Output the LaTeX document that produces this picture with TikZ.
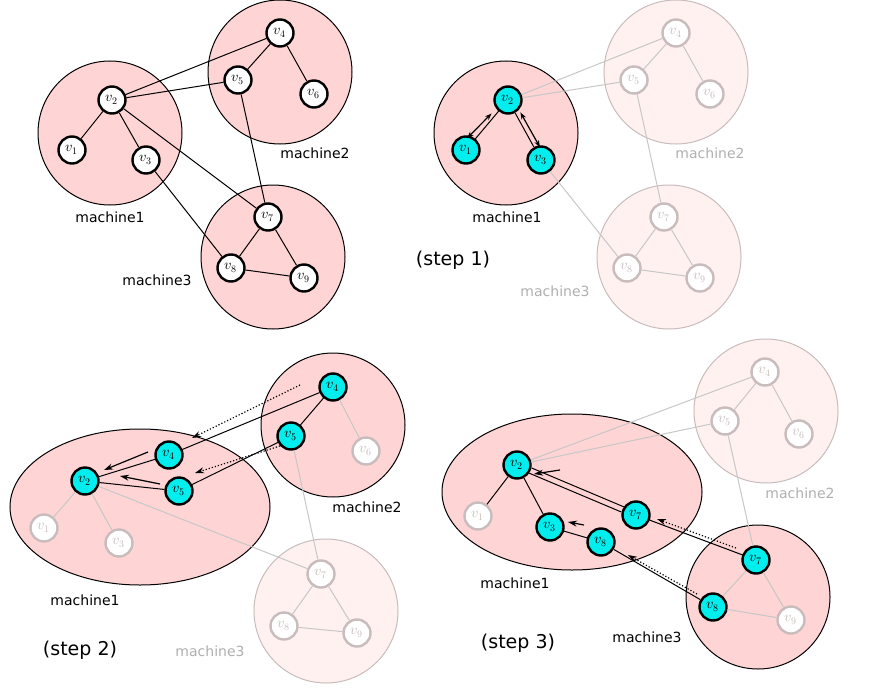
\documentclass[tikz,border=0pt]{standalone}
\usepackage{fontspec}
\setmainfont{DejaVu Sans}
\usepackage{unicode-math}
\setmathfont{Latin Modern Math}
\usetikzlibrary{arrows.meta}
\definecolor{pk}{RGB}{255,212,212}
\definecolor{fpk}{RGB}{255,241,239}
\definecolor{fg}{RGB}{200,188,188}
\definecolor{cy}{RGB}{0,238,238}
\definecolor{lg}{RGB}{175,175,175}
\begin{document}
\begin{tikzpicture}[x=1pt,y=-1pt,
 mach/.style={draw=black,line width=1pt,fill=pk},
 fmach/.style={draw=fg,line width=1pt,fill=fpk},
 vn/.style={circle,draw=black,line width=2.4pt,fill=white,minimum size=27pt,inner sep=0pt,font=\Large},
 cn/.style={vn,fill=cy},
 fn/.style={vn,draw=fg,text=fg},
 e/.style={line width=1pt},
 fe/.style={line width=1pt,draw=lg!70},
 lab/.style={font=\fontsize{14}{16}\selectfont},
 flab/.style={lab,text=lg},
 steplab/.style={font=\fontsize{19}{22}\selectfont},
 ar/.style={line width=1.2pt,-{Stealth[length=9pt,width=6pt]}},
 dar/.style={line width=1.2pt,dotted,-{Stealth[length=9pt,width=6pt]}}]
\useasboundingbox (0,0) rectangle (872,690);
% ---------- panel 1
\draw[mach] (110,133) circle (72);
\draw[mach] (280,72) circle (72);
\draw[mach] (273,257) circle (72);
\node[vn] (a2) at (112,100) {$v_2$};
\node[vn] (a1) at (72,150) {$v_1$};
\node[vn] (a3) at (146,160) {$v_3$};
\node[vn] (a4) at (280,33) {$v_4$};
\node[vn] (a5) at (238,80) {$v_5$};
\node[vn] (a6) at (314,94) {$v_6$};
\node[vn] (a7) at (268,217) {$v_7$};
\node[vn] (a8) at (231,268) {$v_8$};
\node[vn] (a9) at (304,278) {$v_9$};
\foreach \p/\q in {a2/a1,a2/a3,a2/a4,a2/a5,a4/a5,a4/a6,a5/a7,a2/a7,a3/a8,a7/a8,a7/a9,a8/a9}
 \draw[e] (\p) -- (\q);
\node[lab] (m11) at (110,217) {machine1};
\node[lab] (m12) at (315,153) {machine2};
\node[lab] (m13) at (157,280) {machine3};
% ---------- panel 2
\draw[mach] (506,133) circle (72);
\draw[fmach] (676,72) circle (72);
\draw[fmach] (669,257) circle (72);
\node[cn] (b2) at (508,100) {$v_2$};
\node[cn] (b1) at (466,150) {$v_1$};
\node[cn] (b3) at (541,160) {$v_3$};
\node[fn] (b4) at (676,33) {$v_4$};
\node[fn] (b5) at (634,80) {$v_5$};
\node[fn] (b6) at (710,94) {$v_6$};
\node[fn] (b7) at (664,217) {$v_7$};
\node[fn] (b8) at (627,268) {$v_8$};
\node[fn] (b9) at (700,278) {$v_9$};
\foreach \p/\q in {b2/b4,b2/b5,b4/b5,b4/b6,b5/b7,b3/b8,b7/b8,b7/b9,b8/b9}
 \draw[fe] (\p) -- (\q);
\draw[e] (b2) -- (b1); \draw[e] (b2) -- (b3);
\draw[line width=1.2pt,{Stealth[length=7pt,width=5pt]}-{Stealth[length=7pt,width=5pt]}] ([xshift=-6pt,yshift=-3pt]b2.south west) -- ([xshift=1pt,yshift=-3pt]b1.north);
\draw[line width=1.2pt,{Stealth[length=7pt,width=5pt]}-{Stealth[length=7pt,width=5pt]}] ([xshift=2pt,yshift=-2pt]b2.south east) -- ([xshift=-1pt,yshift=-2pt]b3.north);
\node[lab] (m21) at (507,217) {machine1};
\node[flab] (m22) at (710,153) {machine2};
\node[flab] (m23) at (555,291) {machine3};
\node[steplab] (s1) at (453,260) {(step 1)};
% ---------- panel 3
\draw[mach] (140,507) ellipse (130 and 78);
\draw[mach] (333,425) circle (72);
\draw[fmach] (326,611) circle (72);
\node[cn] (c2) at (85,481) {$v_2$};
\node[fn] (c1) at (44,528) {$v_1$};
\node[fn] (c3) at (119,543) {$v_3$};
\node[cn] (c4p) at (169,455) {$v_4$};
\node[cn] (c5p) at (179,491) {$v_5$};
\node[cn] (c4) at (333,387) {$v_4$};
\node[cn] (c5) at (291,436) {$v_5$};
\node[fn] (c6) at (366,451) {$v_6$};
\node[fn] (c7) at (321,574) {$v_7$};
\node[fn] (c8) at (284,626) {$v_8$};
\node[fn] (c9) at (357,633) {$v_9$};
\foreach \p/\q in {c2/c1,c2/c3,c2/c7,c5/c7,c4/c6,c7/c8,c7/c9,c8/c9}
 \draw[fe] (\p) -- (\q);
\foreach \p/\q in {c4/c5,c4/c4p,c5/c5p,c2/c4p,c2/c5p}
 \draw[e] (\p) -- (\q);
\coordinate (d1s) at (300,385); \coordinate (d1e) at (192,438);
\coordinate (d2s) at (283,445); \coordinate (d2e) at (195,473);
\draw[dar] (d1s) -- (d1e);
\draw[dar] (d2s) -- (d2e);
\coordinate (r1s) at (148,452); \coordinate (r1e) at (104,470);
\coordinate (r2s) at (160,484); \coordinate (r2e) at (120,476);
\draw[ar] (r1s) -- (r1e);
\draw[ar] (r2s) -- (r2e);
\node[lab] (m31) at (85,600) {machine1};
\node[lab] (m32) at (367,507) {machine2};
\node[flab] (m33) at (210,651) {machine3};
\node[steplab] (s2) at (80,650) {(step 2)};
% ---------- panel 4
\draw[fmach] (766,411) circle (72);
\draw[mach] (572,492) ellipse (130 and 78);
\draw[mach] (758,597) circle (72);
\node[cn] (g2) at (517,465) {$v_2$};
\node[fn] (g1) at (478,516) {$v_1$};
\node[cn] (g3) at (550,527) {$v_3$};
\node[cn] (g8p) at (601,542) {$v_8$};
\node[cn] (g7p) at (636,515) {$v_7$};
\node[fn] (g4) at (765,372) {$v_4$};
\node[fn] (g5) at (725,421) {$v_5$};
\node[fn] (g6) at (799,434) {$v_6$};
\node[cn] (g7) at (756,560) {$v_7$};
\node[cn] (g8) at (713,607) {$v_8$};
\node[fn] (g9) at (791,620) {$v_9$};
\foreach \p/\q in {g2/g4,g2/g5,g4/g5,g4/g6,g5/g7,g7/g8,g7/g9,g8/g9}
 \draw[fe] (\p) -- (\q);
\foreach \p/\q in {g2/g1,g2/g3,g3/g8p,g7/g7p,g8/g8p}
 \draw[e] (\p) -- (\q);
\draw[e] ([yshift=-3pt]g2.east) -- ([yshift=-3pt]g7p.north west);
\draw[e] ([yshift=3pt]g2.south east) -- ([yshift=3pt]g7p.west);
\coordinate (h1s) at (560,470); \coordinate (h1e) at (534,474);
\draw[ar] (h1s) -- (h1e);
\coordinate (h2s) at (584,525); \coordinate (h2e) at (568,522);
\draw[ar] (h2s) -- (h2e);
\coordinate (k1s) at (736,548); \coordinate (k1e) at (657,519);
\coordinate (k2s) at (697,594); \coordinate (k2e) at (628,555);
\draw[dar] (k1s) -- (k1e);
\draw[dar] (k2s) -- (k2e);
\node[lab] (m41) at (515,583) {machine1};
\node[flab] (m42) at (800,493) {machine2};
\node[lab] (m43) at (647,637) {machine3};
\node[steplab] (s3) at (518,643) {(step 3)};
\end{tikzpicture}
\end{document}
